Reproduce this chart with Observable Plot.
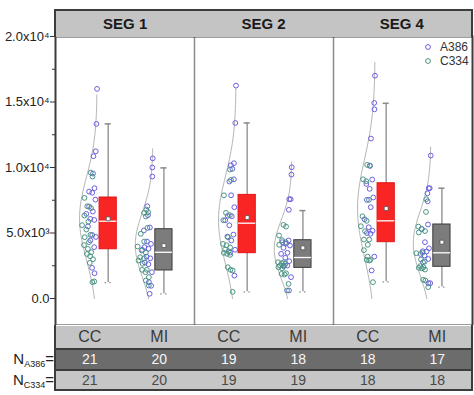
<!DOCTYPE html>
<html><head><meta charset="utf-8">
<script src="https://cdn.jsdelivr.net/npm/d3@7"></script>
<script src="https://cdn.jsdelivr.net/npm/@observablehq/plot@0.6"></script>
<style>
body{margin:0;background:#fff;font-family:Arial,"Liberation Sans",sans-serif;}
#wrap{position:relative;width:474px;height:395px;overflow:hidden;background:#fff;}
#chart{position:absolute;left:0;top:0;}
.abs{position:absolute;box-sizing:border-box;}
.hdr{left:54px;top:9px;width:419px;height:28px;background:#c4c4c4;border:2px solid #3c3c3c;border-bottom:none;display:flex;}
.hdr div{flex:1;text-align:center;font-weight:bold;font-size:15px;line-height:26px;color:#1a1a1a;}
.row{left:55px;width:417px;display:flex;}
.row div{flex:1;text-align:center;}
.line{background:#3c3c3c;}
.rlab{left:0;width:54px;text-align:right;font-size:15px;color:#222;}
.rlab sub{font-size:9px;vertical-align:-3px;}
.leg{left:423px;font-size:12px;color:#333;display:flex;align-items:center;}
</style></head>
<body><div id="wrap"></div>
<script>
// ---- data ----
const segments = ["SEG 1", "SEG 2", "SEG 4"];
const categories = ["CC", "MI"];
const seriesNames = ["A386", "C334"];
const seriesColors = ["#6a5fe0", "#4a9484"];

const seg1_CC_A386 = [16000,13330,11240,10860,9540,8420,8160,8070,7550,7020,6640,6460,6080,6000,5500,4850,4700,4430,3920,2340,1930];
const seg1_CC_C334 = [9610,9310,7680,7040,6900,6330,5870,5600,5260,4860,4680,4300,4080,3790,3530,3400,3230,3000,2720,1300,1250];
const seg1_MI_A386 = [10700,10000,9310,7040,6360,5420,5190,4350,4170,3920,3800,3720,3200,3070,2750,2620,2010,1250,970,360];
const seg1_MI_C334 = [6790,6590,6540,6260,5390,4940,4350,3970,3660,3490,3150,3070,2900,2650,2190,2190,2010,1630,1370,990];
const seg2_CC_A386 = [16250,13400,10330,10170,9900,9100,8930,7880,6970,6310,6280,5970,5590,4880,4730,4430,3720,3510,1750];
const seg2_CC_C334 = [9840,9050,7880,6540,6360,5970,4680,4170,4070,3900,3740,3600,3490,3410,3330,2390,2190,2140,510];
const seg2_MI_A386 = [10020,9460,7580,7580,6770,4430,4300,4200,4040,3870,3490,3410,3110,2850,2520,2520,1630,610];
const seg2_MI_C334 = [5620,5490,4810,4450,4300,4100,2770,2770,2700,2650,2520,2450,2390,2300,1930,1880,1830,1120,610];
const seg4_CC_A386 = [17010,14930,14440,12210,10120,9080,8750,8370,7710,7530,6970,6050,5440,5170,5000,4940,3200,2140];
const seg4_CC_C334 = [10200,10150,9100,8950,7530,6280,5930,5520,5140,4500,4500,4100,3690,3200,2950,2950,2900,1250];
const seg4_MI_A386 = [10910,8420,8420,8030,7420,5650,5300,4300,3830,3610,3590,3400,3280,3020,2770,1170,1170];
const seg4_MI_C334 = [7580,6610,5490,5320,5150,5040,3490,3460,2980,2820,2470,2390,2340,2300,2210,1430,1370,870];

// box statistics, order: SEG1 CC, SEG1 MI, SEG2 CC, SEG2 MI, SEG4 CC, SEG4 MI
const boxQ1       = [3760, 2140, 3460, 2340, 4300, 2420];
const boxMedian   = [5900, 3530, 5750, 3130, 5930, 3490];
const boxQ3       = [7710, 5290, 7910, 4450, 8800, 5650];
const boxMean     = [6080, 4040, 6180, 3870, 6870, 4300];
const whiskerLow  = [1220, 360, 510, 510, 1270, 870];
const whiskerHigh = [13330, 9970, 13400, 6710, 14900, 8420];

const nA386 = [21, 20, 19, 18, 18, 17];
const nC334 = [21, 20, 19, 19, 18, 18];

const yTickValues = [0, 5000, 10000, 15000, 20000];
const yTickLabels = ["0.0", "5.0x10³", "1.0x10⁴", "1.5x10⁴", "2.0x10⁴"];
const yMinorTicks = [2500, 7500, 12500, 17500];

// ---- layout constants ----
const boxOffset = [0.379, 0.78];
const halfBox = 0.062, curveGap = 0.08, curveMaxW = 0.126, capHalf = 0.022;

const groupSeries = [
  [seg1_CC_A386, seg1_CC_C334], [seg1_MI_A386, seg1_MI_C334],
  [seg2_CC_A386, seg2_CC_C334], [seg2_MI_A386, seg2_MI_C334],
  [seg4_CC_A386, seg4_CC_C334], [seg4_MI_A386, seg4_MI_C334]
];

const frac = x => x - Math.floor(x);
const boxes = [], points = [], curves = [];
groupSeries.forEach((ser, g) => {
  const p = Math.floor(g / 2), c = g % 2;
  const center = p + boxOffset[c];
  const base = center - curveGap;
  const all = ser[0].concat(ser[1]);
  const m = d3.mean(all), sd = d3.deviation(all);
  const w = v => curveMaxW * Math.exp(-0.5 * ((v - m) / sd) ** 2);
  boxes.push({g, cat: categories[c], center, q1: boxQ1[g], med: boxMedian[g], q3: boxQ3[g],
    mean: boxMean[g], lo: whiskerLow[g], hi: whiskerHigh[g]});
  const lo = Math.max(0, m - 3 * sd), hi = m + 3 * sd;
  for (let k = 0; k <= 80; k++) {
    const v = lo + (hi - lo) * k / 80;
    curves.push({g, x: base - w(v), v});
  }
  ser.forEach((arr, s) => arr.forEach((v, i) => {
    const u = s === 0 ? 0.06 + 0.6 * frac(i * 0.618 + 0.13) : 0.33 + 0.6 * frac(i * 0.618 + 0.57);
    points.push({series: seriesNames[s], v, x: base - w(v) * u});
  }));
});

const chart = Plot.plot({
  width: 474, height: 325,
  marginTop: 36, marginBottom: 0, marginLeft: 55, marginRight: 2,
  style: {fontFamily: "Arial, 'Liberation Sans', sans-serif", fontSize: "13px", color: "#333", background: "transparent"},
  x: {domain: [0, 3], axis: null},
  y: {domain: [-2060, 20000], axis: null},
  color: {domain: seriesNames, range: seriesColors},
  marks: [
    Plot.ruleX([1, 2], {stroke: "#8c8c8c", strokeWidth: 1.5}),
    Plot.line(curves, {x: "x", y: "v", z: "g", stroke: "#b4b4b4", strokeWidth: 1, curve: "linear"}),
    Plot.dot(points, {x: "x", y: "v", stroke: "series", r: 2.4, strokeWidth: 1, fill: "none"}),
    Plot.ruleX(boxes, {x: "center", y1: "lo", y2: "hi", stroke: "#9a9a9a", strokeWidth: 1.5}),
    Plot.ruleY(boxes, {y: "hi", x1: d => d.center - capHalf, x2: d => d.center + capHalf, stroke: "#8a8a8a", strokeWidth: 1.5}),
    Plot.ruleY(boxes, {y: "lo", x1: d => d.center - capHalf, x2: d => d.center + capHalf, stroke: "#777", strokeWidth: 1.2, strokeDasharray: "1.2,3.6"}),
    Plot.rect(boxes, {filter: d => d.cat === "CC", x1: d => d.center - halfBox, x2: d => d.center + halfBox, y1: "q1", y2: "q3", fill: "#f92424", stroke: "#e01818", strokeWidth: 1}),
    Plot.rect(boxes, {filter: d => d.cat === "MI", x1: d => d.center - halfBox, x2: d => d.center + halfBox, y1: "q1", y2: "q3", fill: "#7c7c7c", stroke: "#3c3c3c", strokeWidth: 1}),
    Plot.ruleY(boxes, {y: "med", x1: d => d.center - halfBox, x2: d => d.center + halfBox, stroke: "#ffffff", strokeWidth: 1.3}),
    Plot.dot(boxes, {x: "center", y: "mean", symbol: "square", r: 2.2, fill: "#ffffff", stroke: "#555", strokeWidth: 0.8}),
    Plot.frame({stroke: "#3c3c3c", strokeWidth: 2}),
    Plot.axisY(yMinorTicks, {tickSize: 3, tickFormat: () => "", stroke: "#333"}),
    Plot.axisY(yTickValues, {tickSize: 5, tickPadding: 1, fontSize: 13, stroke: "#333", fill: "#222",
      tickFormat: d => yTickLabels[yTickValues.indexOf(d)]})
  ]
});

const wrap = document.getElementById("wrap");
chart.id = "chart";
wrap.appendChild(chart);

function el(cls, style, html) {
  const d = document.createElement("div");
  d.className = "abs " + cls;
  Object.assign(d.style, style || {});
  if (html != null) d.innerHTML = html;
  wrap.appendChild(d);
  return d;
}
// header
const hdr = el("hdr");
segments.forEach(s => { const d = document.createElement("div"); d.textContent = s; hdr.appendChild(d); });

// table
const colLabels = segments.flatMap(() => categories);
function row(top, height, bg, color, size, values) {
  const r = el("row", {top: top + "px", height: height + "px", background: bg});
  values.forEach(v => {
    const d = document.createElement("div");
    d.textContent = v;
    Object.assign(d.style, {color, fontSize: size + "px", lineHeight: height + "px"});
    r.appendChild(d);
  });
}
row(326, 22, "#c4c4c4", "#3a3a3a", 16, colLabels);
row(350, 19, "#6c6c6c", "#f6f6f6", 14, nA386);
row(371, 18, "#c6c6c6", "#4a4a4a", 14, nC334);
el("line", {left: "54px", top: "348px", width: "419px", height: "2px"});
el("line", {left: "54px", top: "369px", width: "419px", height: "2px"});
el("line", {left: "54px", top: "389px", width: "419px", height: "2px"});
el("line", {left: "54px", top: "325px", width: "2px", height: "66px"});
el("line", {left: "471px", top: "325px", width: "2px", height: "66px"});
el("rlab", {top: "349px", lineHeight: "20px"}, "N<sub>" + seriesNames[0] + "</sub>=");
el("rlab", {top: "370px", lineHeight: "20px"}, "N<sub>" + seriesNames[1] + "</sub>=");

// legend
seriesNames.forEach((s, i) => {
  el("leg", {top: (40 + i * 14) + "px", height: "14px"},
    `<svg width="14" height="14"><circle cx="5" cy="7" r="2.4" fill="none" stroke="${seriesColors[i]}" stroke-width="1"/></svg><span style="margin-left:3px">${s}</span>`);
});
</script></body></html>
